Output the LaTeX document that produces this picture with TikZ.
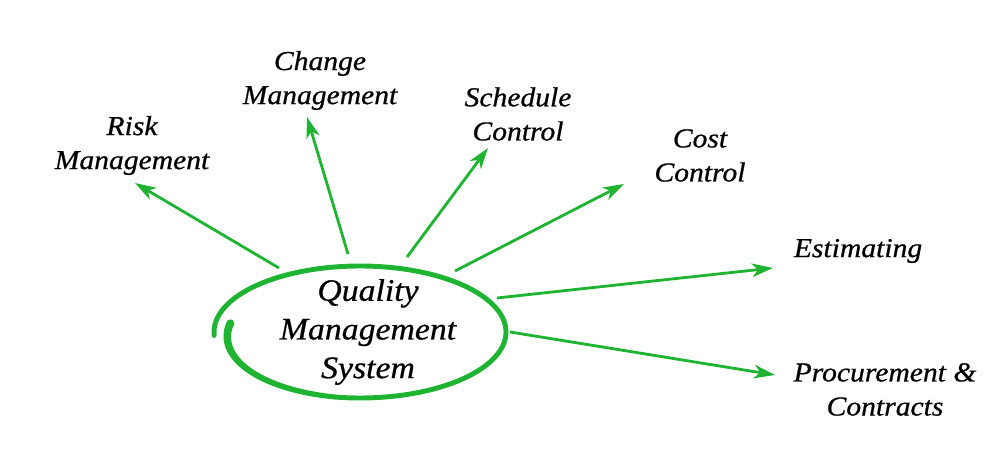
\documentclass[tikz,border=0pt]{standalone}
\usepackage{fontspec}
\setmainfont[FakeStretch=1.08, FakeBold=0.7]{Liberation Serif}
\usetikzlibrary{arrows.meta}
\definecolor{qgreen}{RGB}{30,180,50}
\begin{document}
\begin{tikzpicture}[x=0.02cm,y=-0.02cm,
  lbl/.style={font=\fontsize{15.6}{19.4}\selectfont\itshape, align=center, inner sep=0pt, text=black},
  bigl/.style={font=\fontsize{17.8}{22}\selectfont\itshape, align=center, inner sep=0pt, text=black},
  ray/.style={draw=qgreen, line width=1.6pt, -{Stealth[length=0.42cm,width=0.27cm,inset=0.12cm]}},
  ring/.style={draw=qgreen, line cap=round}]
\useasboundingbox (0,0) rectangle (1000,475);
% labels
\node[lbl] (risk) at (132,145.5) {Risk\\Management};
\node[lbl] (change) at (320,80.5) {Change\\Management};
\node[lbl] (sched) at (518,114) {Schedule\\Control};
\node[lbl] (cost) at (700,155.5) {Cost\\Control};
\node[lbl] (est) at (858,251) {Estimating};
\node[lbl] (proc) at (885,389.5) {Procurement \&\\Contracts};
\node[bigl] (qms) at (368,332) {Quality\\Management\\System};
% hand-drawn ring: thin outer sweep
\draw[ring, line width=2.8pt] plot[domain=183:-100, samples=120, smooth] ({360+146*cos(\x)},{332-66*sin(\x)});
% thickening inner end (filled band)
\fill[qgreen] plot[domain=-100:-188, samples=50, smooth]
    ({360+(146-15*(-100-(\x))/88+2.5+1.5*(-100-(\x))/88)*cos(\x)},{332-(66-4*(-100-(\x))/88+2.5+1.5*(-100-(\x))/88)*sin(\x)})
  -- plot[domain=-188:-100, samples=50, smooth]
    ({360+(146-15*(-100-(\x))/88-2.5-1.5*(-100-(\x))/88)*cos(\x)},{332-(66-4*(-100-(\x))/88-2.5-1.5*(-100-(\x))/88)*sin(\x)})
  -- cycle;
\fill[qgreen] (230.3,323.4) circle[radius=0.08cm];
% connector ends
\coordinate (s1) at (279,268); \coordinate (e1) at (135,183);
\coordinate (s2) at (348,254); \coordinate (e2) at (307,117);
\coordinate (s3) at (407,257); \coordinate (e3) at (488,148);
\coordinate (s4) at (455,271); \coordinate (e4) at (624,184);
\coordinate (s5) at (497,298); \coordinate (e5) at (773,268);
\coordinate (s6) at (510,332); \coordinate (e6) at (775,375);
\draw[ray] (s1) -- (e1);
\draw[ray] (s2) -- (e2);
\draw[ray] (s3) -- (e3);
\draw[ray] (s4) -- (e4);
\draw[ray] (s5) -- (e5);
\draw[ray] (s6) -- (e6);
\end{tikzpicture}
\end{document}
